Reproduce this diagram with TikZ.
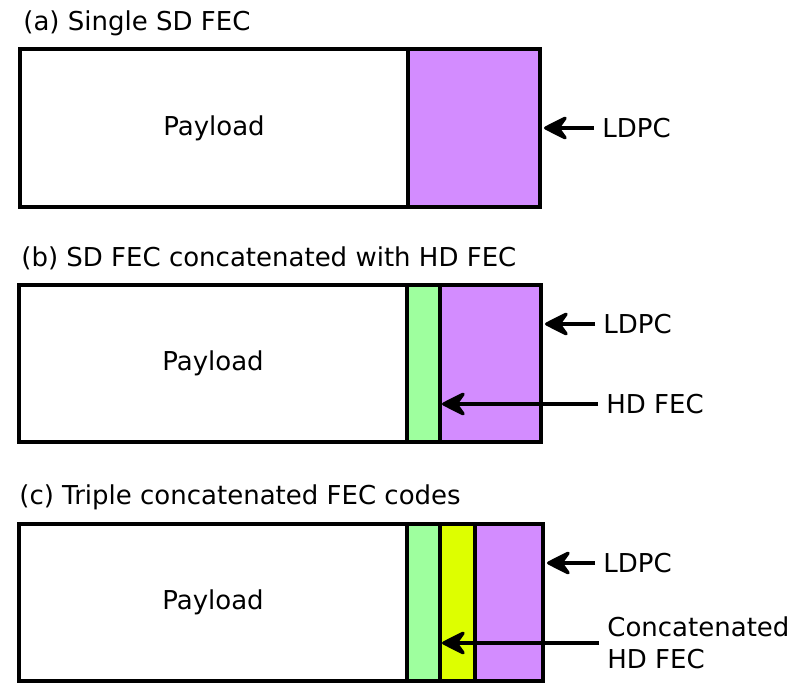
\documentclass[tikz,border=0pt]{standalone}
\usepackage{fontspec}
\setmainfont{DejaVu Sans}
\usepackage{tikz}
\usetikzlibrary{arrows.meta, positioning}
\definecolor{ldpccolor}{RGB}{211,140,255}
\definecolor{hdcolor}{RGB}{158,255,158}
\definecolor{innercolor}{RGB}{221,255,0}

\begin{document}
\begin{tikzpicture}[
    x=0.5pt, y=-0.5pt,
    field/.style={draw, line width=1.7pt, minimum height=79pt, inner sep=0pt, outer sep=0pt, font=\fontsize{13}{15}\selectfont},
    payload/.style={field, anchor=north west, minimum width=194pt},
    caption/.style={anchor=west, inner sep=1.5pt, font=\fontsize{13}{15}\selectfont},
    tag/.style={anchor=west, inner sep=4pt, align=left, font=\fontsize{13}{16}\selectfont},
    arrow/.style={-{Stealth[length=14pt, width=14pt, inset=5pt, round]}, line width=1.6pt}
]
    \useasboundingbox (0,0) rectangle (805,695);

    % (a) Single SD FEC
    \node[caption] (titleA) at (20,23) {(a) Single SD FEC};
    \node[payload] (payA) at (20,49) {Payload};
    \node[field, fill=ldpccolor, minimum width=66pt, right=0pt of payA] (ldpcA) {};
    \node[tag] (ldpcTagA) at (594,128) {LDPC};
    \draw[arrow, shorten >=2pt] (ldpcTagA.west) -- (ldpcA.east |- ldpcTagA.west);

    % (b) SD FEC concatenated with HD FEC
    \node[caption] (titleB) at (18,258) {(b) SD FEC concatenated with HD FEC};
    \node[payload, minimum height=78.5pt] (payB) at (19,285) {Payload};
    \node[field, fill=hdcolor, minimum height=78.5pt, minimum width=16.5pt, right=0pt of payB] (hdB) {};
    \node[field, fill=ldpccolor, minimum height=78.5pt, minimum width=50.5pt, right=0pt of hdB] (ldpcB) {};
    \node[tag] (ldpcTagB) at (595,324) {LDPC};
    \node[tag] (hdTagB) at (598,404) {HD FEC};
    \draw[arrow, shorten >=2pt] (ldpcTagB.west) -- (ldpcB.east |- ldpcTagB.west);
    \draw[arrow, shorten >=1pt] (hdTagB.west) -- (hdB.east |- hdTagB.west);

    % (c) Triple concatenated FEC codes
    \node[caption] (titleC) at (16,497) {(c) Triple concatenated FEC codes};
    \node[payload, minimum height=78.5pt] (payC) at (19,524) {Payload};
    \node[field, fill=hdcolor, minimum height=78.5pt, minimum width=16.5pt, right=0pt of payC] (hdC) {};
    \node[field, fill=innercolor, minimum height=78.5pt, minimum width=17.5pt, right=0pt of hdC] (innerC) {};
    \node[field, fill=ldpccolor, minimum height=78.5pt, minimum width=34pt, right=0pt of innerC] (ldpcC) {};
    \node[tag] (ldpcTagC) at (595,563) {LDPC};
    \node[tag] (hdTagC) at (599,643) {Concatenated\\HD FEC};
    \draw[arrow, shorten >=2pt] (ldpcTagC.west) -- (ldpcC.east |- ldpcTagC.west);
    \draw[arrow, shorten >=1pt] (hdTagC.west) -- (hdC.east |- hdTagC.west);
\end{tikzpicture}
\end{document}
